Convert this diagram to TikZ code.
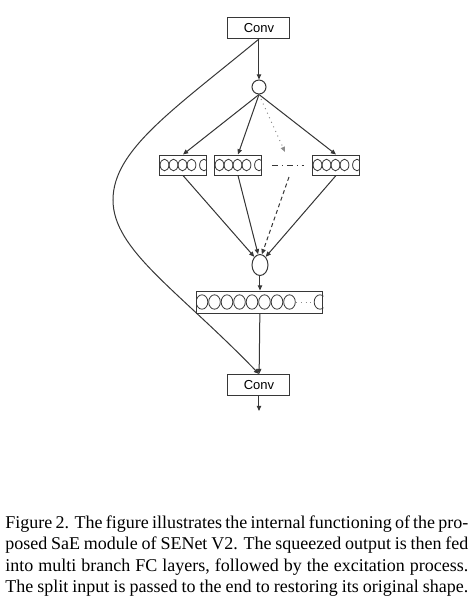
\documentclass[tikz,border=0pt]{standalone}
\usepackage{fontspec}
\setmainfont{Liberation Serif}
\newfontfamily\convfont{Liberation Sans}
\usetikzlibrary{positioning, arrows.meta, shapes.geometric}
\definecolor{linecol}{RGB}{55,55,55}
\definecolor{dotcol}{RGB}{140,140,140}

\begin{document}
\begin{tikzpicture}[
  x=0.5pt, y=-0.5pt,
  >={Triangle[length=2.6pt,width=2.2pt]},
  % --- Styles ---
  convbox/.style={
    rectangle, draw=linecol, line width=0.5pt,
    minimum width=31pt, minimum height=10.5pt, inner sep=0pt,
    font=\convfont\fontsize{6.5}{7}\selectfont},
  fcbox/.style={
    rectangle, draw=linecol, line width=0.5pt,
    minimum width=#1, minimum height=10pt, inner sep=0pt},
  fcbox/.default=23.5pt,
  neuron/.style={draw=linecol, line width=0.4pt},
  myarr/.style={->, line width=0.5pt, draw=linecol, fill=linecol},
]
\useasboundingbox (0,0) rectangle (474,602);
% === NODES ===
\node[convbox] (conv1) at (259,28) {Conv};
\node[circle, draw=linecol, line width=0.5pt, minimum size=7pt, inner sep=0pt] (split) at (259,87) {};
% FC branches
\node[fcbox] (fc1) at (183,165) {};
\node[fcbox] (fc2) at (238,165) {};
\node[fcbox] (fc3) at (336,165) {};
\foreach \b in {fc1,fc2,fc3} {
  \begin{scope}
    \clip (\b.south west) rectangle (\b.north east);
    \foreach \dx in {-18.5,-9.5,-0.5,8.5,21}
      \draw[neuron] ([xshift=\dx*0.5pt]\b.center) ellipse [x radius=2.2pt, y radius=2.9pt];
  \end{scope}
}
\coordinate (dd1) at (272,165);
\coordinate (dd2) at (304,165);
\coordinate (dotend) at (285,152);
\coordinate (dashstart) at (289,177);
% Merge and excitation layer
\node[ellipse, draw=linecol, line width=0.5pt, minimum width=8pt, minimum height=10.5pt, inner sep=0pt] (merge) at (260,265) {};
\node[fcbox=63pt, minimum height=11pt] (exc) at (260,302) {};
\begin{scope}
  \clip (exc.south west) rectangle (exc.north east);
  \foreach \dx in {-58,-45.5,-33,-20.5,-8,4.5,17,29.5,60}
    \draw[neuron] ([xshift=\dx*0.5pt]exc.center) ellipse [x radius=2.9pt, y radius=3.6pt];
\end{scope}
\draw[dotcol, line width=0.4pt, dotted] ([xshift=18pt]exc.center) -- ([xshift=26pt]exc.center);
\node[convbox] (conv2) at (259,385) {Conv};
\coordinate (out) at (259,411);
% === ARROWS ===
\draw[myarr] (conv1) -- (split);
\draw[myarr] (split.south) -- (fc1.north);
\draw[myarr] (split.south) -- (fc2.north);
\draw[myarr] (split.south) -- (fc3.north);
\draw[->, line width=0.5pt, dotcol, dotted] (split.south) -- (dotend);
\draw[linecol, line width=0.4pt, dash dot] (dd1) -- (dd2);
\draw[myarr] (fc1.south) -- (merge.125);
\draw[myarr] (fc2.south) -- (merge.100);
\draw[->, line width=0.5pt, linecol, dash pattern=on 2pt off 1.5pt] (dashstart) -- (merge.80);
\draw[myarr] (fc3.south) -- (merge.55);
\draw[myarr] (merge) -- (exc);
\draw[myarr] (exc) -- (conv2);
\draw[myarr] (conv2) -- (out);
% Skip connection
\draw[myarr, fill=none] (conv1.south) .. controls (173,110) and (113,150) .. (113,200)
  .. controls (113,250) and (178,290) .. (conv2.north);
% === CAPTION ===
\node[anchor=north west, text width=231.5pt, align=justify, inner sep=0pt,
      font=\fontsize{9}{10.8}\selectfont] (caption) at (5,515) {%
  Figure 2. The figure illustrates the internal functioning of the pro-\linebreak
  posed SaE module of SENet V2. The squeezed output is then fed\linebreak
  into multi branch FC layers, followed by the excitation process.\linebreak
  The split input is passed to the end to restoring its original shape.};
\end{tikzpicture}
\end{document}
